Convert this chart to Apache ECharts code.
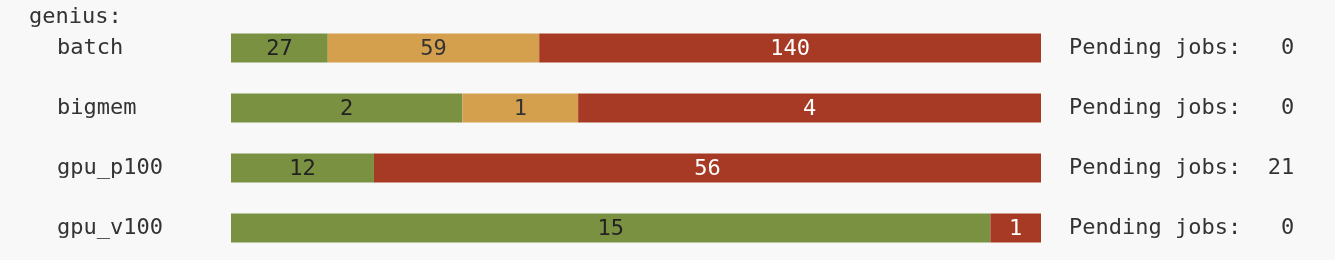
<!DOCTYPE html>
<html><head><meta charset="utf-8">
<script src="https://cdn.jsdelivr.net/npm/echarts@6/dist/echarts.min.js"></script>
<style>html,body{margin:0;padding:0;background:#f8f8f8;}#c{width:1335px;height:260px;}</style>
</head><body><div id="c"></div>
<script>
const clusterName = 'genius:';
const partitions = ['batch', 'bigmem', 'gpu_p100', 'gpu_v100'];
const greenValues = [27, 2, 12, 15];
const orangeValues = [59, 1, 0, 0];
const redValues = [140, 4, 56, 1];
const pendingJobs = [0, 0, 21, 0];

const totals = partitions.map((_, i) => greenValues[i] + orangeValues[i] + redValues[i]);
const FONT = '"DejaVu Sans Mono", "Liberation Mono", monospace';
function mk(values, name, color, textColor) {
  return {
    name, type: 'bar', stack: 'all', barWidth: 29, color,
    data: values.map((v, i) => ({ value: v / totals[i], raw: v })),
    label: {
      show: true, position: 'inside', fontFamily: FONT, fontSize: 22, color: textColor, offset: [0, 1],
      formatter: p => p.data.raw > 0 ? String(p.data.raw) : ''
    },
    emphasis: { disabled: true }
  };
}
const chart = echarts.init(document.getElementById('c'));
chart.setOption({
  backgroundColor: '#f8f8f8',
  animation: false,
  title: { text: clusterName, left: 29, top: 6, padding: 0, textStyle: { fontFamily: FONT, fontSize: 22, fontWeight: 'normal', color: '#333' } },
  grid: { left: 231, right: 294, top: 18, bottom: 2 },
  xAxis: { type: 'value', min: 0, max: 1, show: false },
  yAxis: [
    { type: 'category', data: partitions, inverse: true, axisLine: { show: false }, axisTick: { show: false },
      axisLabel: { align: 'left', margin: 174, fontFamily: FONT, fontSize: 22, color: '#333' } },
    { type: 'category', data: partitions, inverse: true, position: 'right', axisLine: { show: false }, axisTick: { show: false },
      axisLabel: { align: 'left', margin: 28, fontFamily: FONT, fontSize: 22, color: '#333',
        formatter: (v, i) => 'Pending jobs: ' + String(pendingJobs[i]).padStart(3, ' ') } }
  ],
  series: [
    mk(greenValues, 'used', '#7a9142', '#222'),
    mk(orangeValues, 'mixed', '#d4a04e', '#333'),
    mk(redValues, 'full', '#a63a24', '#fff')
  ]
});
</script></body></html>
